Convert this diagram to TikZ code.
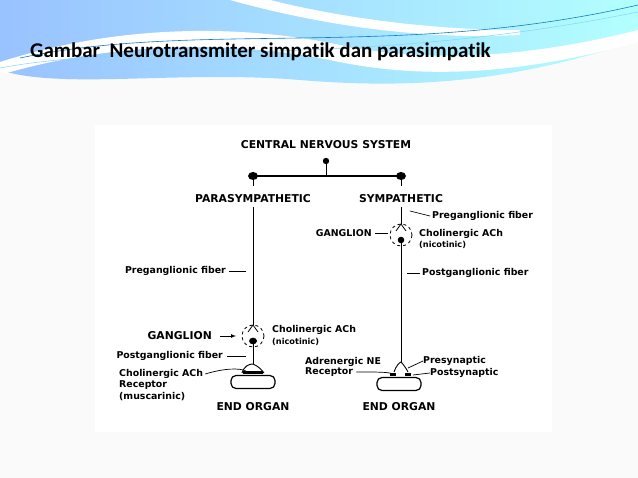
\documentclass[tikz,border=0pt]{standalone}
\usepackage{fontspec}
\setmainfont{DejaVu Sans}
\newfontfamily\titlefont[RawFeature=-liga]{Carlito}
\begin{document}
\begin{tikzpicture}[x=1pt,y=-1pt,
  lbl/.style={font=\bfseries\fontsize{9.4}{10}\selectfont,inner sep=0pt},
  sm/.style={font=\bfseries\fontsize{8.2}{9}\selectfont,inner sep=0pt},
  hd/.style={font=\bfseries\fontsize{10.8}{11}\selectfont,inner sep=0pt},
  nerve/.style={line width=1pt},
  gang/.style={dashed,line width=0.8pt},
  organ/.style={draw,line width=1.2pt,rounded corners=5pt}]
\useasboundingbox (0,0) rectangle (638,478);
\fill[white!96!gray] (0,0) rectangle (638,478);
% top waves
\shade[left color=cyan!40!blue!40,right color=cyan!30] (0,0) -- (638,0) -- (638,40) .. controls (520,80) and (420,90) .. (300,80) .. controls (180,70) and (60,90) .. (0,70) -- cycle;
\fill[white] (0,62) .. controls (100,30) and (220,20) .. (340,45) .. controls (420,62) and (520,60) .. (638,30) -- (638,42) .. controls (520,75) and (420,80) .. (330,60) .. controls (220,38) and (100,45) .. (0,75) -- cycle;
\fill[white] (230,0) .. controls (320,25) and (420,40) .. (520,35) -- (520,30) .. controls (420,30) and (330,15) .. (270,0) -- cycle;
\draw[cyan!60!blue,line width=0.6pt] (20,58) .. controls (200,20) and (400,60) .. (638,5);
\draw[cyan!50,line width=0.5pt] (0,68) .. controls (150,40) and (350,70) .. (638,12);
\node[anchor=west,inner sep=0pt,font=\titlefont\bfseries\fontsize{21}{23}\selectfont] (title) at (30,52) {Gambar\ \ Neurotransmiter simpatik dan parasimpatik};
% diagram box
\fill[white] (95,125) rectangle (552,432);
\node[hd] (cns) at (326,145) {CENTRAL NERVOUS SYSTEM};
\fill (326,161) circle (3.2);
\coordinate (top) at (326,176);
\coordinate (pl) at (253,176);
\coordinate (sl) at (401,176);
\draw[nerve] (326,161) -- (top);
\draw[line width=1.2pt] (pl) -- (sl);
\fill (pl) ellipse (5 and 4);
\fill (sl) ellipse (5 and 4);
\draw[nerve] (pl) -- (253,186);
\draw[nerve] (sl) -- (401,186);
\node[hd] (para) at (253,199) {PARASYMPATHETIC};
\node[hd] (sym) at (401,199) {SYMPATHETIC};
% sympathetic ganglion
\coordinate (sg) at (401,235);
\draw[gang] (sg) circle (11);
\draw[nerve] (401,207) -- (401,224);
\draw[line width=0.8pt] (396,231) -- (401,224) -- (406,231);
\fill (401,240) circle (3.3);
\draw[nerve] (401,240) -- (401,362);
% parasympathetic ganglion
\coordinate (pg) at (253,336);
\draw[gang] (pg) circle (11);
\draw[nerve] (253,207) -- (253,325);
\draw[line width=0.8pt] (248,332) -- (253,325) -- (258,332);
\fill (253,341) ellipse (4 and 3.3);
\draw[nerve] (253,341) -- (253,364);
% para end organ
\draw[line width=0.9pt] (242,373) .. controls (244,366) and (249,364) .. (253,364) .. controls (258,366) and (262,370) .. (264,373);
\fill (243,371) rectangle (263,374);
\node[organ,minimum width=44pt,minimum height=13pt] (peo) at (253,382) {};
\node[hd] (peol) at (253,407) {END ORGAN};
% sym end organ
\draw[line width=0.9pt] (394,372) .. controls (396,366) and (399,363) .. (401,362) .. controls (403,364) and (406,368) .. (408,372);
\fill (390,373) rectangle (396,376);
\fill (405,373) rectangle (411,376);
\node[organ,minimum width=44pt,minimum height=13pt] (seo) at (399,384) {};
\node[hd] (seol) at (399,407) {END ORGAN};
% sympathetic labels
\node[lbl,anchor=west] (spre) at (432,216) {Preganglionic fiber};
\draw[line width=0.7pt] (410,211) -- ([xshift=-2pt]spre.west);
\node[lbl,anchor=east] (sgl) at (372,233) {GANGLION};
\coordinate (sglend) at (388,233);
\draw[line width=0.7pt] ([xshift=3pt]sgl.east) -- (sglend);
\node[lbl,anchor=west] (sach) at (419,234) {Cholinergic ACh};
\node[sm,anchor=west] (snic) at (419,245) {(nicotinic)};
\node[lbl,anchor=west] (spost) at (422,273) {Postganglionic fiber};
\draw[line width=0.7pt] (407,273) -- ([xshift=-2pt]spost.west);
% parasympathetic labels
\node[lbl,anchor=east] (ppre) at (226,271) {Preganglionic fiber};
\coordinate (ppreend) at (246,271);
\draw[line width=0.7pt] ([xshift=3pt]ppre.east) -- (ppreend);
\node[hd,anchor=east] (pgl) at (212,336) {GANGLION};
\coordinate (pglend) at (236,336);
\draw[-latex,line width=0.7pt] ([xshift=8pt]pgl.east) -- (pglend);
\node[lbl,anchor=west] (pach) at (272,330) {Cholinergic ACh};
\node[sm,anchor=west] (pnic) at (272,342) {(nicotinic)};
\node[lbl,anchor=east] (ppost) at (223,356) {Postganglionic fiber};
\coordinate (ppostend) at (246,356);
\draw[line width=0.7pt] ([xshift=4pt]ppost.east) -- (ppostend);
\node[lbl,anchor=west] (prec) at (119,374) {Cholinergic ACh};
\node[lbl,anchor=west] (prec2) at (119,385) {Receptor};
\node[lbl,anchor=west] (prec3) at (119,397) {(muscarinic)};
\coordinate (precend) at (246,371);
\draw[line width=0.7pt] ([xshift=2pt]prec.east) .. controls (225,368) and (240,368) .. (precend);
\node[lbl,anchor=west] (sne) at (305,362) {Adrenergic NE};
\node[lbl,anchor=west] (sne2) at (305,372) {Receptor};
\coordinate (sneend) at (393,374);
\draw[line width=0.7pt] ([xshift=3pt]sne2.east) .. controls (380,372) and (388,372) .. (sneend);
\node[lbl,anchor=west] (spres) at (423,361) {Presynaptic};
\coordinate (spresend) at (408,368);
\draw[line width=0.7pt] (spres.west) -- (spresend);
\node[lbl,anchor=west] (spost2) at (430,373) {Postsynaptic};
\coordinate (spost2end) at (413,375);
\draw[line width=0.7pt] (spost2.west) -- (spost2end);
\end{tikzpicture}
\end{document}
